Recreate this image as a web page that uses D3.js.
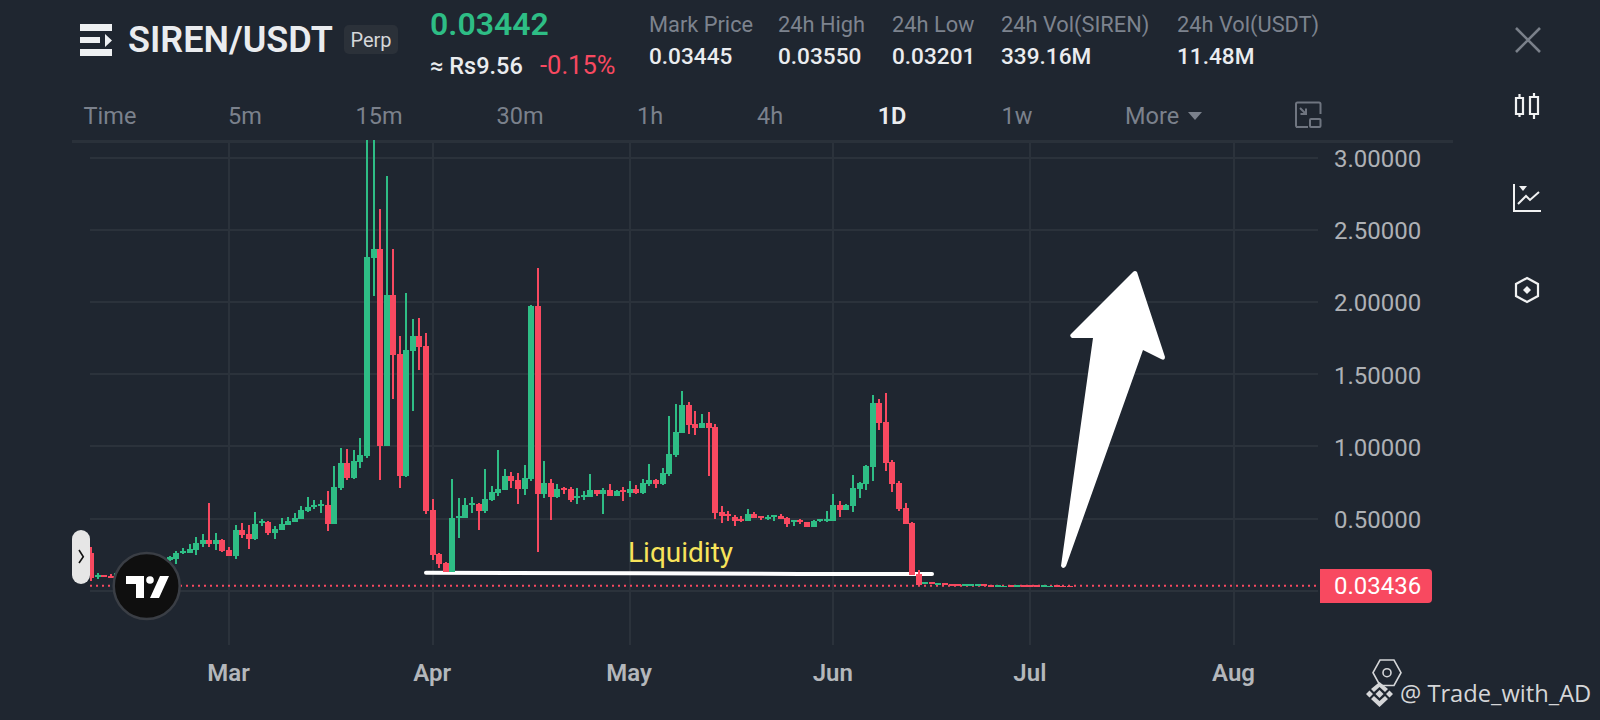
<!DOCTYPE html>
<html>
<head>
<meta charset="utf-8">
<title>SIREN/USDT</title>
<script src="https://cdn.jsdelivr.net/npm/d3@7"></script>
<style>
  html, body { margin: 0; padding: 0; background: #1f2630; }
  svg { display: block; }
  text { font-family: Roboto, "Noto Sans", sans-serif; }
</style>
</head>
<body>
<svg id="chart" width="1600" height="720"></svg>
<script>
// first daily candle on the chart, the rest follow one day apart
const firstDay = new Date(Date.UTC(2025, 1, 8));

const opens = [
  .264,.097,.109,.102,.102,.116,.129,.148,.162,.199,
  .190,.199,.213,.220,.259,.261,.282,.324,.351,.324,
  .351,.282,.240,.421,.393,.358,.469,.476,.400,.421,
  .455,.476,.497,.552,.583,.589,.594,.462,.712,.885,
  .781,.892,.934,2.307,2.369,1.003,2.050,1.641,.795,1.662,
  1.766,1.697,.559,.254,.192,.129,.504,.504,.594,.601,
  .552,.629,.677,.698,.795,.767,.705,.774,1.974,.670,
  .747,.650,.712,.705,.643,.650,.650,.698,.670,.698,
  .656,.698,.677,.705,.677,.740,.767,.740,.809,.941,
  1.093,1.288,1.156,1.128,1.163,1.135,.546,.532,.511,.497,
  .483,.532,.518,.497,.511,.518,.504,.476,.490,.476,
  .442,.483,.483,.483,.594,.559,.587,.705,.740,.858,
  1.301,1.170,.892,.747,.573,.469,.116,.051,.060,.046,
  .053,.046,.046,.037,.037,.039,.046,.038,.032,.032,
  .037,.032,.037,.037,.037,.033,.033,.037,.036,.035
];
const highs = [
  .305,.123,.109,.116,.132,.153,.171,.190,.203,.213,
  .227,.236,.240,.275,.296,.324,.372,.393,.608,.400,
  .358,.303,.455,.469,.455,.546,.497,.483,.448,.504,
  .511,.539,.587,.650,.629,.629,.691,.865,.989,.982,
  .975,1.059,3.30,3.30,2.647,2.876,2.369,1.766,2.064,1.884,
  1.891,1.787,.636,.261,.199,.774,.643,.643,.650,.608,
  .844,.726,.975,.844,.823,.816,.871,1.981,2.238,.899,
  .774,.740,.719,.719,.712,.691,.809,.698,.712,.740,
  .698,.719,.761,.733,.774,.878,.774,.851,1.211,1.295,
  1.385,1.308,1.246,1.225,1.239,1.156,.587,.552,.525,.518,
  .566,.546,.518,.525,.525,.532,.511,.490,.497,.476,
  .490,.497,.552,.670,.622,.601,.802,.754,.871,1.357,
  1.329,1.371,.906,.761,.608,.476,.143,.060,.060,.055,
  .053,.046,.046,.046,.046,.046,.046,.038,.037,.036,
  .037,.037,.037,.037,.037,.037,.036,.037,.036,.035
];
const lows = [
  .069,.081,.097,.088,.092,.106,.120,.139,.153,.166,
  .180,.190,.208,.185,.254,.261,.247,.303,.303,.282,
  .268,.240,.220,.365,.289,.351,.448,.386,.358,.421,
  .455,.476,.497,.546,.566,.539,.414,.462,.698,.767,
  .774,.851,.920,2.043,.767,1.003,1.329,.712,.788,1.246,
  1.530,.532,.213,.157,.129,.129,.365,.504,.539,.421,
  .539,.622,.656,.698,.712,.601,.663,.761,.268,.643,
  .490,.643,.670,.615,.601,.629,.650,.656,.532,.656,
  .656,.622,.650,.670,.670,.726,.712,.733,.795,.927,
  1.093,1.086,1.080,1.128,.795,.497,.469,.483,.448,.476,
  .483,.504,.490,.490,.483,.497,.442,.448,.462,.442,
  .442,.476,.476,.483,.511,.559,.546,.643,.698,.761,
  1.114,.830,.684,.552,.462,.109,.032,.044,.044,.039,
  .042,.039,.039,.037,.037,.039,.037,.032,.032,.032,
  .032,.032,.032,.032,.033,.033,.033,.033,.033,.034
];
const closes = [
  .086,.109,.097,.090,.120,.139,.155,.171,.190,.176,
  .213,.224,.233,.259,.275,.289,.331,.351,.324,.351,
  .275,.240,.421,.386,.358,.462,.483,.400,.428,.462,
  .483,.504,.559,.580,.596,.601,.462,.719,.885,.781,
  .899,.941,2.314,2.369,1.003,2.050,1.634,.795,1.669,1.766,
  1.690,.552,.247,.185,.129,.504,.518,.594,.608,.552,
  .636,.684,.705,.795,.761,.705,.781,1.974,.670,.747,
  .650,.705,.698,.629,.656,.663,.698,.670,.698,.656,
  .693,.684,.705,.677,.747,.767,.740,.816,.948,1.100,
  1.288,1.149,1.128,1.163,1.128,.539,.518,.518,.483,.483,
  .532,.504,.504,.511,.525,.497,.462,.490,.476,.442,
  .483,.497,.497,.594,.559,.594,.712,.747,.865,1.301,
  1.163,.885,.740,.566,.462,.109,.039,.060,.051,.053,
  .045,.039,.039,.046,.046,.046,.037,.032,.037,.036,
  .032,.037,.032,.032,.033,.037,.036,.033,.033,.0344
];

const priceTicks = [0.5, 1, 1.5, 2, 2.5, 3];
const gridPrices = [0, 0.5, 1, 1.5, 2, 2.5, 3];
const monthTicks = [2, 3, 4, 5, 6, 7].map(m => new Date(Date.UTC(2025, m, 1)));
const lastPrice = 0.03436;

const intervals = ["Time", "5m", "15m", "30m", "1h", "4h", "1D", "1w"];
const intervalX = [110, 245, 379, 520, 650, 770, 892, 1017];
const statNames = ["Mark Price", "24h High", "24h Low", "24h Vol(SIREN)", "24h Vol(USDT)"];
const statValues = ["0.03445", "0.03550", "0.03201", "339.16M", "11.48M"];
const statX = [649, 778, 892, 1001, 1177];

const green = "#2ebd85", red = "#f84960", bg = "#1f2630", grid = "#2b323b";
const plot = { left: 90, right: 1318, top: 140, bottom: 645 };

const svg = d3.select("#chart");
svg.append("rect").attr("width", 1600).attr("height", 720).attr("fill", bg);

const x = d3.scaleUtc()
  .domain([monthTicks[0], monthTicks[5]])
  .range([229, 1234]);
const y = d3.scaleLinear()
  .domain([0, 3])
  .range([590.7, 158]);

// grid
const gridG = svg.append("g").attr("shape-rendering", "crispEdges");
gridG.selectAll("line.h").data(gridPrices).enter().append("line")
  .attr("class", "h")
  .attr("x1", plot.left).attr("x2", plot.right)
  .attr("y1", d => y(d)).attr("y2", d => y(d))
  .attr("stroke", grid).attr("stroke-width", 2);
gridG.selectAll("line.v").data(monthTicks).enter().append("line")
  .attr("class", "v")
  .attr("x1", d => x(d)).attr("x2", d => x(d))
  .attr("y1", plot.top).attr("y2", plot.bottom)
  .attr("stroke", grid).attr("stroke-width", 2);
gridG.append("line")
  .attr("x1", 72).attr("x2", 1453).attr("y1", 141).attr("y2", 141)
  .attr("stroke", "#2a313a").attr("stroke-width", 3);

// axes
const yAxis = d3.axisRight(y).tickValues(priceTicks).tickFormat(d3.format(".5f")).tickSize(0).tickPadding(0);
const yG = svg.append("g").attr("transform", "translate(1334,1)").call(yAxis);
yG.select(".domain").remove();
yG.selectAll("text").attr("font-size", 24).attr("fill", "#aeb1b5").style("font-family", "Roboto");

const xAxis = d3.axisBottom(x).tickValues(monthTicks).tickFormat(d3.utcFormat("%b")).tickSize(0).tickPadding(0);
const xG = svg.append("g").attr("transform", "translate(-1,664)").call(xAxis);
xG.select(".domain").remove();
xG.selectAll("text").attr("font-size", 24).attr("font-weight", 600).attr("fill", "#b4b7bb").style("font-family", "Roboto");

// last price dotted line
svg.append("line")
  .attr("x1", plot.left).attr("x2", plot.right)
  .attr("y1", y(lastPrice)).attr("y2", y(lastPrice))
  .attr("stroke", red).attr("stroke-width", 2).attr("stroke-dasharray", "2 4");

// hand drawn liquidity line goes under the candles
svg.append("path")
  .attr("d", "M426,572.7 L640,573.2 L800,574 L932,574")
  .attr("fill", "none").attr("stroke", "#fff").attr("stroke-width", 4).attr("stroke-linecap", "round");

// candles
svg.append("clipPath").attr("id", "plotClip").append("rect")
  .attr("x", plot.left).attr("y", plot.top)
  .attr("width", plot.right - plot.left).attr("height", plot.bottom - plot.top);

const candles = opens.map((o, i) => ({
  day: d3.utcDay.offset(firstDay, i), o, h: highs[i], l: lows[i], c: closes[i]
}));
const candleG = svg.append("g").attr("clip-path", "url(#plotClip)").attr("shape-rendering", "crispEdges");
const candle = candleG.selectAll("g").data(candles).enter().append("g")
  .attr("fill", d => d.c >= d.o ? green : red);
candle.append("rect")
  .attr("x", d => x(d.day) - 1).attr("width", 2)
  .attr("y", d => y(d.h))
  .attr("height", d => y(d.l) - y(d.h));
candle.append("rect")
  .attr("x", d => x(d.day) - 3).attr("width", 6)
  .attr("y", d => y(Math.max(d.o, d.c)))
  .attr("height", d => Math.max(1.5, Math.abs(y(d.o) - y(d.c))));

// price tag
svg.append("path").attr("d", "M1320,569H1428a4,4 0 0 1 4,4V599a4,4 0 0 1 -4,4H1320Z").attr("fill", red);
svg.append("text").attr("x", 1334).attr("y", 594).attr("font-size", 24).attr("fill", "#fff")
  .text(d3.format(".5f")(lastPrice));

// tradingview badge and the side handle
const logo = svg.append("g");
logo.append("circle").attr("cx", 146.7).attr("cy", 586).attr("r", 33)
  .attr("fill", "#0f0f0f").attr("stroke", "#3a3e45").attr("stroke-width", 2.5);
logo.append("path").attr("d", "M126,576H144V598H136V584H126Z").attr("fill", "#fff");
logo.append("circle").attr("cx", 150).attr("cy", 580).attr("r", 3.8).attr("fill", "#fff");
logo.append("path").attr("d", "M160,576H169L159,598H150Z").attr("fill", "#fff");
svg.append("rect").attr("x", 72).attr("y", 530).attr("width", 18).attr("height", 54).attr("rx", 9)
  .attr("fill", "#e6e6e6");
svg.append("path").attr("d", "M79,550L83.3,556.7L79,563").attr("fill", "none")
  .attr("stroke", "#111").attr("stroke-width", 1.6);

// annotation
svg.append("text").attr("x", 628).attr("y", 562).attr("font-size", 28).attr("fill", "#f7e35a").text("Liquidity");
svg.append("path")
  .attr("d", "M1133,272Q1135,270 1137,272L1165,357Q1165,361 1161,359L1143,350L1066,566Q1063,570 1061,566L1093,338L1072,338Q1069,336 1071,334Z")
  .attr("fill", "#fff");

// header
const head = svg.append("g");
head.append("path").attr("d", "M80,24H112V31H80ZM80,37H100V43H80ZM80,49H112V56H80ZM105,34L112,40.5L105,47Z").attr("fill", "#eef0f2");
head.append("text").attr("x", 128).attr("y", 52).attr("font-size", 36).attr("font-weight", 600).attr("fill", "#eaecef").text("SIREN/USDT");
head.append("rect").attr("x", 344).attr("y", 25).attr("width", 54).attr("height", 29).attr("rx", 5).attr("fill", "#2b3139");
head.append("text").attr("x", 371).attr("y", 47).attr("font-size", 20).attr("text-anchor", "middle").attr("fill", "#d5d7da").text("Perp");
head.append("text").attr("x", 430).attr("y", 35).attr("font-size", 32).attr("font-weight", 600).attr("fill", green).text("0.03442");
head.append("text").attr("x", 430).attr("y", 74).attr("font-size", 23.5).attr("font-weight", 500).attr("fill", "#eaecef").text("≈ Rs9.56");
head.append("text").attr("x", 540).attr("y", 74).attr("font-size", 25.5).attr("fill", red).text("-0.15%");

head.selectAll("text.name").data(statNames).enter().append("text").attr("class", "name")
  .attr("x", (d, i) => statX[i]).attr("y", 32).attr("font-size", 21.8).attr("fill", "#7d838e").text(d => d);
head.selectAll("text.value").data(statValues).enter().append("text").attr("class", "value")
  .attr("x", (d, i) => statX[i]).attr("y", 64).attr("font-size", 22.6).attr("font-weight", 500).attr("fill", "#eaecef").text(d => d);

head.selectAll("text.tab").data(intervals).enter().append("text").attr("class", "tab")
  .attr("x", (d, i) => intervalX[i]).attr("y", 124).attr("font-size", 23.5).attr("text-anchor", "middle")
  .attr("font-weight", d => d == "1D" ? 600 : 400)
  .attr("fill", d => d == "1D" ? "#eaecef" : "#7b818c").text(d => d);
head.append("text").attr("x", 1125).attr("y", 124).attr("font-size", 23.5).attr("fill", "#7b818c").text("More");
head.append("path").attr("d", "M1188,112H1202L1195,120Z").attr("fill", "#7b818c");

// small icons
const ic = svg.append("g").attr("fill", "none");
ic.append("path").attr("d", "M1297,127a1.5,1.5 0 0 1 -1,-1.5V104a1.5,1.5 0 0 1 1.5,-1.5H1319a1.5,1.5 0 0 1 1.5,1.5V114M1296,127H1308M1300,108L1306,114M1306,108.5V114H1300.5")
  .attr("stroke", "#6f7580").attr("stroke-width", 2);
ic.append("rect").attr("x", 1310).attr("y", 119).attr("width", 10.5).attr("height", 8).attr("rx", 1)
  .attr("stroke", "#6f7580").attr("stroke-width", 2);
ic.append("path").attr("d", "M1516,28L1540,52M1540,28L1516,52").attr("stroke", "#7a808a").attr("stroke-width", 2.6);
ic.append("path").attr("d", "M1516,98H1523V114H1516ZM1519.5,94V98M1519.5,114V117M1530,97H1538V114H1530ZM1534,93V97M1534,114V119")
  .attr("stroke", "#f0f1f2").attr("stroke-width", 2.2);
ic.append("path").attr("d", "M1514,184V211H1541M1518,204L1526,196L1530,200L1539,192").attr("stroke", "#f0f1f2").attr("stroke-width", 2);
ic.append("path").attr("d", "M1519,186H1527L1523,191Z").attr("fill", "#f0f1f2");
ic.append("path").attr("d", "M1527,278L1538,284V296L1527,302L1516,296V284Z").attr("stroke", "#f0f1f2").attr("stroke-width", 2.2);
ic.append("path").attr("d", "M1527,286L1531,290L1527,294L1523,290Z").attr("fill", "#f0f1f2");

// watermark
const wm = svg.append("g");
wm.append("path").attr("d", "M1373,672.7L1380,660H1394L1401,672.7L1394,685.5H1380Z").attr("fill", "none").attr("stroke", "#d5d6d8").attr("stroke-width", 1.6);
wm.append("circle").attr("cx", 1387).attr("cy", 672.7).attr("r", 4).attr("fill", "none").attr("stroke", "#d5d6d8").attr("stroke-width", 1.6);
wm.append("path").attr("d", "M1379.5,682L1388,689L1385,692L1379.5,687L1374,692L1371,689ZM1366,694L1369.5,690.5L1373,694L1369.5,697.5ZM1386,694L1389.5,690.5L1393,694L1389.5,697.5ZM1379.5,690L1383.5,694L1379.5,698L1375.5,694ZM1374,696L1379.5,701L1385,696L1388,699L1379.5,707L1371,699Z")
  .attr("fill", "#d5d6d8");
wm.append("text").attr("x", 1400).attr("y", 702).attr("font-size", 23.7).style("font-family", "'Open Sans'").attr("fill", "#d5d6d8").text("@ Trade_with_AD");
</script>
</body>
</html>
